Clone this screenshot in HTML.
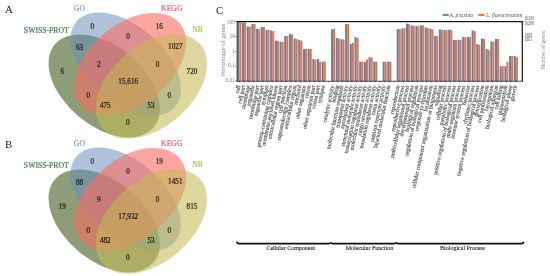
<!DOCTYPE html>
<html><head><meta charset="utf-8"><style>
html,body{margin:0;padding:0;background:#fff;width:550px;height:276px;overflow:hidden}
svg{display:block;will-change:transform}
.n{font-family:"Liberation Serif",serif;font-size:7.2px;text-anchor:middle;fill:#1a1a1a;stroke:#1a1a1a;stroke-width:0.2px}
.cl{font-family:"Liberation Serif",serif;font-size:7.7px;text-anchor:middle;stroke-width:0.2px}
.pl{font-family:"Liberation Serif",serif;font-size:11px;fill:#1a1a1a}
.xl{font-family:"Liberation Serif",serif;font-size:5.7px;text-anchor:end;fill:#484848;stroke:#484848;stroke-width:0.12px}
.yt{font-family:"Liberation Serif",serif;font-size:5.5px;text-anchor:end;fill:#808080}
.ax{font-family:"Liberation Serif",serif;font-size:5.5px;fill:#808080;text-anchor:middle}
.lg{font-family:"Liberation Serif",serif;font-size:5.6px;font-style:italic;fill:#555}
.br{font-family:"Liberation Serif",serif;font-size:6px;fill:#333;stroke:#333;stroke-width:0.15px;text-anchor:middle}
</style></head><body>
<svg width="550" height="276" viewBox="0 0 550 276">
<rect width="550" height="276" fill="#fff"/>
<text x="4.9" y="13" class="pl">A</text>
<text x="4.9" y="148" class="pl">B</text>
<text x="216" y="13.8" class="pl" style="font-size:11px">C</text>
<g transform="translate(0,0)">
<ellipse cx="104.2" cy="85.86" rx="64.47" ry="39.81" transform="rotate(39.93 104.2 85.86)" fill="rgb(99,120,71)" fill-opacity="0.731"/>
<ellipse cx="125.66" cy="64.16" rx="65.14" ry="38.21" transform="rotate(41.13 125.66 64.16)" fill="rgb(105,143,187)" fill-opacity="0.54"/>
<ellipse cx="130.38" cy="64.09" rx="64.0" ry="40.31" transform="rotate(-39.31 130.38 64.09)" fill="rgb(251,109,99)" fill-opacity="0.608"/>
<ellipse cx="151.41" cy="86.33" rx="64.5" ry="40.9" transform="rotate(-40.9 151.41 86.33)" fill="rgb(197,185,85)" fill-opacity="0.567"/>
<text x="92.4" y="29.0" class="n">0</text>
<text x="79.6" y="49.8" class="n">63</text>
<text x="98.7" y="66.8" class="n">2</text>
<text x="62.3" y="73.8" class="n">6</text>
<text x="128" y="39.1" class="n">0</text>
<text x="159.3" y="28.8" class="n">16</text>
<text x="175.3" y="49.1" class="n">1027</text>
<text x="157.5" y="66.5" class="n">0</text>
<text x="192" y="73.8" class="n">720</text>
<text x="128.2" y="83.8" class="n">15,616</text>
<text x="169.3" y="97.8" class="n">0</text>
<text x="151" y="107.5" class="n">53</text>
<text x="105.3" y="107.9" class="n">475</text>
<text x="88.3" y="97.5" class="n">0</text>
<text x="127.9" y="124.7" class="n">0</text>
<text x="46.3" y="32.6" class="cl" fill="#467a4e" stroke="#467a4e">SWISS-PROT</text>
<text x="79.4" y="10.6" class="cl" fill="#7b9ccf" stroke="#7b9ccf">GO</text>
<text x="171.8" y="10.6" class="cl" fill="#f0607a" stroke="#f0607a">KEGG</text>
<text x="197.5" y="32.4" class="cl" fill="#bcbc50" stroke="#bcbc50">NR</text>
</g>
<g transform="translate(0,135)">
<ellipse cx="104.2" cy="85.86" rx="64.47" ry="39.81" transform="rotate(39.93 104.2 85.86)" fill="rgb(99,120,71)" fill-opacity="0.731"/>
<ellipse cx="125.66" cy="64.16" rx="65.14" ry="38.21" transform="rotate(41.13 125.66 64.16)" fill="rgb(105,143,187)" fill-opacity="0.54"/>
<ellipse cx="130.38" cy="64.09" rx="64.0" ry="40.31" transform="rotate(-39.31 130.38 64.09)" fill="rgb(251,109,99)" fill-opacity="0.608"/>
<ellipse cx="151.41" cy="86.33" rx="64.5" ry="40.9" transform="rotate(-40.9 151.41 86.33)" fill="rgb(197,185,85)" fill-opacity="0.567"/>
<text x="92.4" y="29.0" class="n">0</text>
<text x="79.6" y="49.8" class="n">88</text>
<text x="98.7" y="66.8" class="n">9</text>
<text x="62.3" y="73.8" class="n">19</text>
<text x="128" y="39.1" class="n">0</text>
<text x="159.3" y="28.8" class="n">19</text>
<text x="175.3" y="49.1" class="n">1451</text>
<text x="157.5" y="66.5" class="n">0</text>
<text x="192" y="73.8" class="n">815</text>
<text x="128.2" y="83.8" class="n">17,932</text>
<text x="169.3" y="97.8" class="n">0</text>
<text x="151" y="107.5" class="n">53</text>
<text x="105.3" y="107.9" class="n">482</text>
<text x="88.3" y="97.5" class="n">0</text>
<text x="127.9" y="124.7" class="n">0</text>
<text x="46.3" y="32.6" class="cl" fill="#467a4e" stroke="#467a4e">SWISS-PROT</text>
<text x="79.4" y="10.6" class="cl" fill="#7b9ccf" stroke="#7b9ccf">GO</text>
<text x="171.8" y="10.6" class="cl" fill="#f0607a" stroke="#f0607a">KEGG</text>
<text x="197.5" y="32.4" class="cl" fill="#bcbc50" stroke="#bcbc50">NR</text>
</g>
<!-- chart -->
<rect x="237.40" y="22.2" width="2.05" height="58.80" fill="#4a87c5"/><rect x="239.45" y="22.2" width="2.05" height="58.80" fill="#fb6e30"/><rect x="242.08" y="22.5" width="2.05" height="58.50" fill="#4a87c5"/><rect x="244.13" y="22.5" width="2.05" height="58.50" fill="#fb6e30"/><rect x="246.77" y="26.4" width="2.05" height="54.60" fill="#4a87c5"/><rect x="248.82" y="26.6" width="2.05" height="54.40" fill="#fb6e30"/><rect x="251.45" y="24" width="2.05" height="57.00" fill="#4a87c5"/><rect x="253.50" y="24" width="2.05" height="57.00" fill="#fb6e30"/><rect x="256.14" y="28.7" width="2.05" height="52.30" fill="#4a87c5"/><rect x="258.19" y="29.1" width="2.05" height="51.90" fill="#fb6e30"/><rect x="260.82" y="27" width="2.05" height="54.00" fill="#4a87c5"/><rect x="262.87" y="27" width="2.05" height="54.00" fill="#fb6e30"/><rect x="265.50" y="30" width="2.05" height="51.00" fill="#4a87c5"/><rect x="267.55" y="30" width="2.05" height="51.00" fill="#fb6e30"/><rect x="270.19" y="30.5" width="2.05" height="50.50" fill="#4a87c5"/><rect x="272.24" y="31.1" width="2.05" height="49.90" fill="#fb6e30"/><rect x="274.87" y="40.7" width="2.05" height="40.30" fill="#4a87c5"/><rect x="276.92" y="40.9" width="2.05" height="40.10" fill="#fb6e30"/><rect x="279.56" y="41.9" width="2.05" height="39.10" fill="#4a87c5"/><rect x="281.61" y="41.7" width="2.05" height="39.30" fill="#fb6e30"/><rect x="284.24" y="35.9" width="2.05" height="45.10" fill="#4a87c5"/><rect x="286.29" y="35.9" width="2.05" height="45.10" fill="#fb6e30"/><rect x="288.92" y="33.9" width="2.05" height="47.10" fill="#4a87c5"/><rect x="290.97" y="34.5" width="2.05" height="46.50" fill="#fb6e30"/><rect x="293.61" y="38.5" width="2.05" height="42.50" fill="#4a87c5"/><rect x="295.66" y="39.1" width="2.05" height="41.90" fill="#fb6e30"/><rect x="298.29" y="39.9" width="2.05" height="41.10" fill="#4a87c5"/><rect x="300.34" y="40.7" width="2.05" height="40.30" fill="#fb6e30"/><rect x="302.98" y="49" width="2.05" height="32.00" fill="#4a87c5"/><rect x="305.03" y="49" width="2.05" height="32.00" fill="#fb6e30"/><rect x="307.66" y="49" width="2.05" height="32.00" fill="#4a87c5"/><rect x="309.71" y="49" width="2.05" height="32.00" fill="#fb6e30"/><rect x="312.34" y="59.1" width="2.05" height="21.90" fill="#4a87c5"/><rect x="314.39" y="59.5" width="2.05" height="21.50" fill="#fb6e30"/><rect x="317.03" y="59" width="2.05" height="22.00" fill="#4a87c5"/><rect x="319.08" y="61.7" width="2.05" height="19.30" fill="#fb6e30"/><rect x="321.71" y="61.7" width="2.05" height="19.30" fill="#4a87c5"/><rect x="323.76" y="61.7" width="2.05" height="19.30" fill="#fb6e30"/><rect x="331.08" y="29.3" width="2.05" height="51.70" fill="#4a87c5"/><rect x="333.13" y="28.7" width="2.05" height="52.30" fill="#fb6e30"/><rect x="335.76" y="38" width="2.05" height="43.00" fill="#4a87c5"/><rect x="337.81" y="38.5" width="2.05" height="42.50" fill="#fb6e30"/><rect x="340.45" y="39.2" width="2.05" height="41.80" fill="#4a87c5"/><rect x="342.50" y="39.7" width="2.05" height="41.30" fill="#fb6e30"/><rect x="345.13" y="24" width="2.05" height="57.00" fill="#4a87c5"/><rect x="347.18" y="24.2" width="2.05" height="56.80" fill="#fb6e30"/><rect x="349.82" y="44" width="2.05" height="37.00" fill="#4a87c5"/><rect x="351.87" y="43" width="2.05" height="38.00" fill="#fb6e30"/><rect x="354.50" y="37" width="2.05" height="44.00" fill="#4a87c5"/><rect x="356.55" y="38" width="2.05" height="43.00" fill="#fb6e30"/><rect x="359.18" y="61.7" width="2.05" height="19.30" fill="#4a87c5"/><rect x="361.23" y="61.7" width="2.05" height="19.30" fill="#fb6e30"/><rect x="363.87" y="61.7" width="2.05" height="19.30" fill="#4a87c5"/><rect x="365.92" y="59.5" width="2.05" height="21.50" fill="#fb6e30"/><rect x="368.55" y="57.4" width="2.05" height="23.60" fill="#4a87c5"/><rect x="370.60" y="57.4" width="2.05" height="23.60" fill="#fb6e30"/><rect x="373.24" y="61.7" width="2.05" height="19.30" fill="#4a87c5"/><rect x="375.29" y="61.7" width="2.05" height="19.30" fill="#fb6e30"/><rect x="382.60" y="61.7" width="2.05" height="19.30" fill="#4a87c5"/><rect x="384.65" y="61.7" width="2.05" height="19.30" fill="#fb6e30"/><rect x="387.29" y="61.7" width="2.05" height="19.30" fill="#4a87c5"/><rect x="389.34" y="61.7" width="2.05" height="19.30" fill="#fb6e30"/><rect x="396.66" y="29.1" width="2.05" height="51.90" fill="#4a87c5"/><rect x="398.71" y="29.1" width="2.05" height="51.90" fill="#fb6e30"/><rect x="401.34" y="28.5" width="2.05" height="52.50" fill="#4a87c5"/><rect x="403.39" y="28.1" width="2.05" height="52.90" fill="#fb6e30"/><rect x="406.02" y="23.7" width="2.05" height="57.30" fill="#4a87c5"/><rect x="408.07" y="24.2" width="2.05" height="56.80" fill="#fb6e30"/><rect x="410.71" y="25.4" width="2.05" height="55.60" fill="#4a87c5"/><rect x="412.76" y="25.8" width="2.05" height="55.20" fill="#fb6e30"/><rect x="415.39" y="25.8" width="2.05" height="55.20" fill="#4a87c5"/><rect x="417.44" y="26.1" width="2.05" height="54.90" fill="#fb6e30"/><rect x="420.08" y="25.4" width="2.05" height="55.60" fill="#4a87c5"/><rect x="422.13" y="25.4" width="2.05" height="55.60" fill="#fb6e30"/><rect x="424.76" y="27.6" width="2.05" height="53.40" fill="#4a87c5"/><rect x="426.81" y="28.1" width="2.05" height="52.90" fill="#fb6e30"/><rect x="429.44" y="28.7" width="2.05" height="52.30" fill="#4a87c5"/><rect x="431.49" y="29.3" width="2.05" height="51.70" fill="#fb6e30"/><rect x="434.13" y="35.9" width="2.05" height="45.10" fill="#4a87c5"/><rect x="436.18" y="36.1" width="2.05" height="44.90" fill="#fb6e30"/><rect x="438.81" y="29.3" width="2.05" height="51.70" fill="#4a87c5"/><rect x="440.86" y="29.7" width="2.05" height="51.30" fill="#fb6e30"/><rect x="443.50" y="30" width="2.05" height="51.00" fill="#4a87c5"/><rect x="445.55" y="30.2" width="2.05" height="50.80" fill="#fb6e30"/><rect x="448.18" y="29.6" width="2.05" height="51.40" fill="#4a87c5"/><rect x="450.23" y="30" width="2.05" height="51.00" fill="#fb6e30"/><rect x="452.86" y="39.9" width="2.05" height="41.10" fill="#4a87c5"/><rect x="454.91" y="39.9" width="2.05" height="41.10" fill="#fb6e30"/><rect x="457.55" y="39.9" width="2.05" height="41.10" fill="#4a87c5"/><rect x="459.60" y="39.9" width="2.05" height="41.10" fill="#fb6e30"/><rect x="462.23" y="37.1" width="2.05" height="43.90" fill="#4a87c5"/><rect x="464.28" y="37.3" width="2.05" height="43.70" fill="#fb6e30"/><rect x="466.92" y="36.9" width="2.05" height="44.10" fill="#4a87c5"/><rect x="468.97" y="37.1" width="2.05" height="43.90" fill="#fb6e30"/><rect x="471.60" y="30.5" width="2.05" height="50.50" fill="#4a87c5"/><rect x="473.65" y="31.1" width="2.05" height="49.90" fill="#fb6e30"/><rect x="476.28" y="44" width="2.05" height="37.00" fill="#4a87c5"/><rect x="478.33" y="44.9" width="2.05" height="36.10" fill="#fb6e30"/><rect x="480.97" y="38.5" width="2.05" height="42.50" fill="#4a87c5"/><rect x="483.02" y="38.9" width="2.05" height="42.10" fill="#fb6e30"/><rect x="485.65" y="49" width="2.05" height="32.00" fill="#4a87c5"/><rect x="487.70" y="50" width="2.05" height="31.00" fill="#fb6e30"/><rect x="490.34" y="41.6" width="2.05" height="39.40" fill="#4a87c5"/><rect x="492.39" y="41.3" width="2.05" height="39.70" fill="#fb6e30"/><rect x="495.02" y="38.9" width="2.05" height="42.10" fill="#4a87c5"/><rect x="497.07" y="38.9" width="2.05" height="42.10" fill="#fb6e30"/><rect x="499.70" y="66.2" width="2.05" height="14.80" fill="#4a87c5"/><rect x="501.75" y="66.2" width="2.05" height="14.80" fill="#fb6e30"/><rect x="504.39" y="66.2" width="2.05" height="14.80" fill="#4a87c5"/><rect x="506.44" y="61.7" width="2.05" height="19.30" fill="#fb6e30"/><rect x="509.07" y="56" width="2.05" height="25.00" fill="#4a87c5"/><rect x="511.12" y="56" width="2.05" height="25.00" fill="#fb6e30"/><rect x="513.76" y="56" width="2.05" height="25.00" fill="#4a87c5"/><rect x="515.81" y="57.4" width="2.05" height="23.60" fill="#fb6e30"/>
<rect x="236.5" y="21" width="285.5" height="1.2" fill="#111"/>
<rect x="236.7" y="21" width="0.9" height="60.8" fill="#1a1a1a"/>
<rect x="521.7" y="21" width="1.2" height="60.5" fill="#111"/>
<rect x="236.7" y="80.8" width="286" height="0.8" fill="#222"/>
<rect x="239.05" y="81.0" width="0.8" height="1.2" fill="#222"/><rect x="243.73" y="81.0" width="0.8" height="1.2" fill="#222"/><rect x="248.42" y="81.0" width="0.8" height="1.2" fill="#222"/><rect x="253.10" y="81.0" width="0.8" height="1.2" fill="#222"/><rect x="257.79" y="81.0" width="0.8" height="1.2" fill="#222"/><rect x="262.47" y="81.0" width="0.8" height="1.2" fill="#222"/><rect x="267.15" y="81.0" width="0.8" height="1.2" fill="#222"/><rect x="271.84" y="81.0" width="0.8" height="1.2" fill="#222"/><rect x="276.52" y="81.0" width="0.8" height="1.2" fill="#222"/><rect x="281.21" y="81.0" width="0.8" height="1.2" fill="#222"/><rect x="285.89" y="81.0" width="0.8" height="1.2" fill="#222"/><rect x="290.57" y="81.0" width="0.8" height="1.2" fill="#222"/><rect x="295.26" y="81.0" width="0.8" height="1.2" fill="#222"/><rect x="299.94" y="81.0" width="0.8" height="1.2" fill="#222"/><rect x="304.63" y="81.0" width="0.8" height="1.2" fill="#222"/><rect x="309.31" y="81.0" width="0.8" height="1.2" fill="#222"/><rect x="313.99" y="81.0" width="0.8" height="1.2" fill="#222"/><rect x="318.68" y="81.0" width="0.8" height="1.2" fill="#222"/><rect x="323.36" y="81.0" width="0.8" height="1.2" fill="#222"/><rect x="328.05" y="81.0" width="0.8" height="1.2" fill="#222"/><rect x="332.73" y="81.0" width="0.8" height="1.2" fill="#222"/><rect x="337.41" y="81.0" width="0.8" height="1.2" fill="#222"/><rect x="342.10" y="81.0" width="0.8" height="1.2" fill="#222"/><rect x="346.78" y="81.0" width="0.8" height="1.2" fill="#222"/><rect x="351.47" y="81.0" width="0.8" height="1.2" fill="#222"/><rect x="356.15" y="81.0" width="0.8" height="1.2" fill="#222"/><rect x="360.83" y="81.0" width="0.8" height="1.2" fill="#222"/><rect x="365.52" y="81.0" width="0.8" height="1.2" fill="#222"/><rect x="370.20" y="81.0" width="0.8" height="1.2" fill="#222"/><rect x="374.89" y="81.0" width="0.8" height="1.2" fill="#222"/><rect x="379.57" y="81.0" width="0.8" height="1.2" fill="#222"/><rect x="384.25" y="81.0" width="0.8" height="1.2" fill="#222"/><rect x="388.94" y="81.0" width="0.8" height="1.2" fill="#222"/><rect x="393.62" y="81.0" width="0.8" height="1.2" fill="#222"/><rect x="398.31" y="81.0" width="0.8" height="1.2" fill="#222"/><rect x="402.99" y="81.0" width="0.8" height="1.2" fill="#222"/><rect x="407.67" y="81.0" width="0.8" height="1.2" fill="#222"/><rect x="412.36" y="81.0" width="0.8" height="1.2" fill="#222"/><rect x="417.04" y="81.0" width="0.8" height="1.2" fill="#222"/><rect x="421.73" y="81.0" width="0.8" height="1.2" fill="#222"/><rect x="426.41" y="81.0" width="0.8" height="1.2" fill="#222"/><rect x="431.09" y="81.0" width="0.8" height="1.2" fill="#222"/><rect x="435.78" y="81.0" width="0.8" height="1.2" fill="#222"/><rect x="440.46" y="81.0" width="0.8" height="1.2" fill="#222"/><rect x="445.15" y="81.0" width="0.8" height="1.2" fill="#222"/><rect x="449.83" y="81.0" width="0.8" height="1.2" fill="#222"/><rect x="454.51" y="81.0" width="0.8" height="1.2" fill="#222"/><rect x="459.20" y="81.0" width="0.8" height="1.2" fill="#222"/><rect x="463.88" y="81.0" width="0.8" height="1.2" fill="#222"/><rect x="468.57" y="81.0" width="0.8" height="1.2" fill="#222"/><rect x="473.25" y="81.0" width="0.8" height="1.2" fill="#222"/><rect x="477.93" y="81.0" width="0.8" height="1.2" fill="#222"/><rect x="482.62" y="81.0" width="0.8" height="1.2" fill="#222"/><rect x="487.30" y="81.0" width="0.8" height="1.2" fill="#222"/><rect x="491.99" y="81.0" width="0.8" height="1.2" fill="#222"/><rect x="496.67" y="81.0" width="0.8" height="1.2" fill="#222"/><rect x="501.35" y="81.0" width="0.8" height="1.2" fill="#222"/><rect x="506.04" y="81.0" width="0.8" height="1.2" fill="#222"/><rect x="510.72" y="81.0" width="0.8" height="1.2" fill="#222"/><rect x="515.41" y="81.0" width="0.8" height="1.2" fill="#222"/>
<g class="yt">
<text transform="translate(235,23.5) scale(1,1.3)">100</text><text x="235" y="37.8">10</text><text x="235" y="52.6">1</text><text x="235" y="67.4">0.1</text><text x="235" y="82.2">0.01</text>
</g>
<g fill="#333"><rect x="235.2" y="21.4" width="1.4" height="0.6"/><rect x="235.2" y="36.2" width="1.4" height="0.6"/><rect x="235.2" y="51" width="1.4" height="0.6"/><rect x="235.2" y="65.8" width="1.4" height="0.6"/><rect x="235.2" y="80.6" width="1.4" height="0.6"/>
<rect x="522" y="21.4" width="1.4" height="0.6"/><rect x="522" y="36.2" width="1.4" height="0.6"/></g>
<text transform="translate(224.7,50) rotate(-90) scale(1.2,1)" class="ax">Percentage of genes</text>
<text transform="translate(544.8,50) rotate(-90)" class="ax">Number of genes</text>
<g font-family="Liberation Serif" font-size="4.2px" fill="#777" stroke="#777" stroke-width="0.1"><text transform="translate(524.4,20.2) scale(0.8,1.3)">16,334</text><text transform="translate(524.4,25.2) scale(0.8,1.3)">16,588</text><text transform="translate(524.6,36.6) scale(0.9,1.3)">1633</text><text transform="translate(524.6,40.8) scale(0.9,1.3)">1651</text></g>
<rect x="442.7" y="13.9" width="6" height="2" fill="#4a87c5"/><text x="449.4" y="17" class="lg">A. praxina</text>
<rect x="478.3" y="13.9" width="6.2" height="2" fill="#fb6e30"/><text x="486" y="17" class="lg">L. flavoconatum</text>
<text transform="translate(240.45,85.8) rotate(-78)" class="xl">cell</text><text transform="translate(245.13,85.8) rotate(-78)" class="xl">cell part</text><text transform="translate(249.82,85.8) rotate(-78)" class="xl">membrane</text><text transform="translate(254.50,85.8) rotate(-78)" class="xl">organelle</text><text transform="translate(259.19,85.8) rotate(-78)" class="xl">membrane part</text><text transform="translate(263.87,85.8) rotate(-78)" class="xl">organelle part</text><text transform="translate(268.55,85.8) rotate(-78)" class="xl">symplast</text><text transform="translate(273.24,85.8) rotate(-78)" class="xl">protein-containing complex</text><text transform="translate(277.92,85.8) rotate(-78)" class="xl">membrane-enclosed lumen</text><text transform="translate(282.61,85.8) rotate(-78)" class="xl">extracellular region part</text><text transform="translate(287.29,85.8) rotate(-78)" class="xl">cell junction</text><text transform="translate(291.97,85.8) rotate(-78)" class="xl">supramolecular complex</text><text transform="translate(296.66,85.8) rotate(-78)" class="xl">extracellular region</text><text transform="translate(301.34,85.8) rotate(-78)" class="xl">nucleoid</text><text transform="translate(306.03,85.8) rotate(-78)" class="xl">other organism</text><text transform="translate(310.71,85.8) rotate(-78)" class="xl">virion</text><text transform="translate(315.39,85.8) rotate(-78)" class="xl">other organism part</text><text transform="translate(320.08,85.8) rotate(-78)" class="xl">virion part</text><text transform="translate(324.76,85.8) rotate(-78)" class="xl">synapse</text><text transform="translate(334.13,85.8) rotate(-78)" class="xl">catalytic activity</text><text transform="translate(338.81,85.8) rotate(-78)" class="xl">binding</text><text transform="translate(343.50,85.8) rotate(-78)" class="xl">molecular function regulator</text><text transform="translate(348.18,85.8) rotate(-78)" class="xl">transporter activity</text><text transform="translate(352.87,85.8) rotate(-78)" class="xl">antioxidant activity</text><text transform="translate(357.55,85.8) rotate(-78)" class="xl">structural molecule activity</text><text transform="translate(362.23,85.8) rotate(-78)" class="xl">transcription regulator activity</text><text transform="translate(366.92,85.8) rotate(-78)" class="xl">molecular transducer activity</text><text transform="translate(371.60,85.8) rotate(-78)" class="xl">cargo receptor activity</text><text transform="translate(376.29,85.8) rotate(-78)" class="xl">translation regulator activity</text><text transform="translate(380.97,85.8) rotate(-78)" class="xl">toxin activity</text><text transform="translate(385.65,85.8) rotate(-78)" class="xl">nutrient reservoir activity</text><text transform="translate(390.34,85.8) rotate(-78)" class="xl">hijacked molecular function</text><text transform="translate(399.71,85.8) rotate(-78)" class="xl">reproduction</text><text transform="translate(404.39,85.8) rotate(-78)" class="xl">reproductive process</text><text transform="translate(409.07,85.8) rotate(-78)" class="xl">multicellular organismal process</text><text transform="translate(413.76,85.8) rotate(-78)" class="xl">developmental process</text><text transform="translate(418.44,85.8) rotate(-78)" class="xl">biological regulation</text><text transform="translate(423.13,85.8) rotate(-78)" class="xl">regulation of biological process</text><text transform="translate(427.81,85.8) rotate(-78)" class="xl">response to stimulus</text><text transform="translate(432.49,85.8) rotate(-78)" class="xl">localization</text><text transform="translate(437.18,85.8) rotate(-78)" class="xl">cellular component organization or biogenesis</text><text transform="translate(441.86,85.8) rotate(-78)" class="xl">signaling</text><text transform="translate(446.55,85.8) rotate(-78)" class="xl">cellular process</text><text transform="translate(451.23,85.8) rotate(-78)" class="xl">metabolic process</text><text transform="translate(455.91,85.8) rotate(-78)" class="xl">positive regulation of biological process</text><text transform="translate(460.60,85.8) rotate(-78)" class="xl">multi-organism process</text><text transform="translate(465.28,85.8) rotate(-78)" class="xl">immune system process</text><text transform="translate(469.97,85.8) rotate(-78)" class="xl">behavior</text><text transform="translate(474.65,85.8) rotate(-78)" class="xl">rhythmic process</text><text transform="translate(479.33,85.8) rotate(-78)" class="xl">negative regulation of biological process</text><text transform="translate(484.02,85.8) rotate(-78)" class="xl">detoxification</text><text transform="translate(488.70,85.8) rotate(-78)" class="xl">cell proliferation</text><text transform="translate(493.39,85.8) rotate(-78)" class="xl">locomotion</text><text transform="translate(498.07,85.8) rotate(-78)" class="xl">biological adhesion</text><text transform="translate(502.75,85.8) rotate(-78)" class="xl">cell killing</text><text transform="translate(507.44,85.8) rotate(-78)" class="xl">pigmentation</text><text transform="translate(512.12,85.8) rotate(-78)" class="xl">biological phase</text><text transform="translate(516.81,85.8) rotate(-78)" class="xl">growth</text>
<!-- brackets -->
<g fill="none" stroke="#111" stroke-width="1.8" stroke-linecap="round">
<path d="M237,242.4 Q237.5,243.6 239,243.6 L328.5,243.6 Q330.5,243.6 330.8,242.4 Q331.1,243.6 333,243.6 L394,243.6 Q396,243.6 396.3,242.4 Q396.6,243.6 398.5,243.6 L521.5,243.6 Q523.3,243.6 523.5,242.4"/>
</g>
<text x="290.8" y="250" class="br">Cellular Component</text>
<text x="369.5" y="250" class="br">Molecular Function</text>
<text x="462.5" y="250" class="br">Biological Process</text>
</svg>
</body></html>
